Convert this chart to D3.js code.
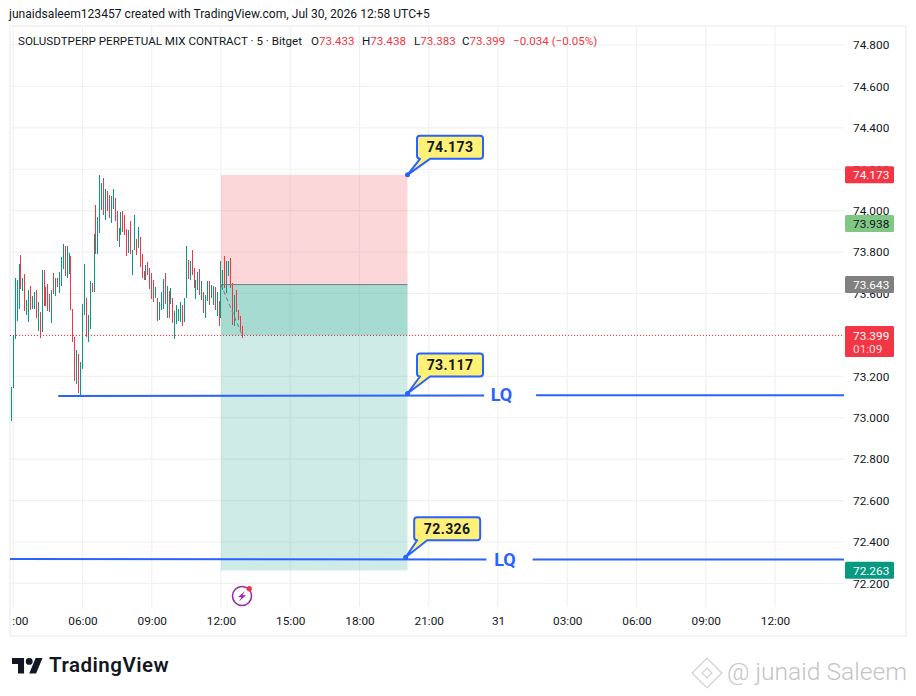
<!DOCTYPE html>
<html>
<head>
<meta charset="utf-8">
<style>
  html, body { margin: 0; padding: 0; background: #fff; }
  svg { display: block; }
  text { font-family: Roboto, "Noto Sans", sans-serif; }
</style>
<script src="https://cdn.jsdelivr.net/npm/d3@7"></script>
</head>
<body>
<svg id="chart" width="916" height="696"></svg>
<script>
// 5 minute bars, first one is Jul 30 02:55
const barHighs = [73.149,73.395,73.675,73.666,73.743,73.786,73.675,73.695,73.569,73.617,
  73.637,73.588,73.608,73.617,73.559,73.511,73.714,73.714,73.632,73.646,
  73.598,73.617,73.699,73.675,73.675,73.704,73.777,73.839,73.830,73.830,
  73.796,73.782,73.526,73.390,73.328,73.308,73.270,73.550,73.743,73.579,
  73.497,73.661,73.651,73.888,74.028,73.970,74.172,74.134,74.158,74.105,
  74.095,74.076,74.071,74.105,74.061,73.998,73.917,73.994,73.998,73.979,
  73.912,73.907,73.951,73.811,73.979,73.864,73.922,73.873,73.791,73.709,
  73.738,73.753,73.724,73.699,73.666,73.632,73.579,73.559,73.608,73.671,
  73.699,73.637,73.613,73.627,73.579,73.516,73.545,73.526,73.559,73.545,
  73.579,73.830,73.762,73.757,73.811,73.724,73.666,73.704,73.719,73.661,
  73.608,73.593,73.661,73.661,73.641,73.637,73.632,73.608,73.564,73.757,
  73.714,73.782,73.757,73.757,73.772,73.651,73.593,73.617,73.521,73.492,73.444]
const barLows = [72.985,73.144,73.381,73.468,73.526,73.622,73.613,73.516,73.497,73.463,
  73.521,73.526,73.526,73.482,73.419,73.385,73.414,73.540,73.540,73.516,
  73.511,73.458,73.598,73.588,73.632,73.603,73.637,73.719,73.685,73.675,
  73.695,73.521,73.366,73.178,73.163,73.120,73.110,73.236,73.497,73.390,
  73.366,73.429,73.608,73.608,73.791,73.791,73.893,74.003,73.979,73.955,
  73.998,73.965,73.941,74.008,73.951,73.854,73.825,73.883,73.897,73.883,
  73.782,73.796,73.791,73.690,73.811,73.786,73.820,73.728,73.675,73.666,
  73.666,73.690,73.622,73.574,73.559,73.579,73.468,73.472,73.521,73.526,
  73.550,73.482,73.482,73.550,73.458,73.381,73.453,73.468,73.463,73.444,
  73.463,73.579,73.671,73.666,73.690,73.627,73.574,73.617,73.593,73.569,
  73.506,73.482,73.564,73.545,73.579,73.545,73.521,73.492,73.444,73.482,
  73.617,73.627,73.603,73.685,73.627,73.448,73.444,73.511,73.472,73.419,73.385]
const barDirs = ('GGGGGRGRGG' + 'RGGRGRGRRR' + 'RGRGRGGGRG' + 'GRRRGRGGGR' + 'GGRGRGGGRG' + 'RRGGRRGGRR'
  + 'RGRGGRGRRR' + 'GRRRRGRGGG' + 'RGRGRGGGGR' + 'GGRGRRGGRG' + 'RGGRGGRGRG' + 'GRGGRRGRRRR').split('')

const priceTicks = [74.8,74.6,74.4,74.2,74.0,73.8,73.6,73.4,73.2,73.0,72.8,72.6,72.4,72.2]
const timeTickHours = [3,6,9,12,15,18,21,24,27,30,33,36]
const timeTickLabels = ['03:00','06:00','09:00','12:00','15:00','18:00','21:00','31','03:00','06:00','09:00','12:00']

const lastPrice = 73.399
const entryPrice = 73.643
const stopPrice = 74.173
const targetPrice = 72.263

const priceLabels = [
  { value: 74.173, text: '74.173', fill: '#f23645', color: '#fff' },
  { value: 73.938, text: '73.938', fill: '#81c784', color: '#131722' },
  { value: 73.643, text: '73.643', fill: '#808080', color: '#fff' },
  { value: 72.263, text: '72.263', fill: '#089981', color: '#fff' }
]
const callouts = [
  { hour: 20.08, price: 74.173, text: '74.173', dx: 9.5, dy: -39 },
  { hour: 20.08, price: 73.117, text: '73.117', dx: 9.5, dy: -40 },
  { hour: 20.0, price: 72.326, text: '72.326', dx: 8.5, dy: -40 }
]
const lqLines = [
  { from: 4.95, to: 39, p1: 73.105, p2: 73.11, gapFrom: 23.4, gapTo: 25.65, textHour: 24.15 },
  { from: 2.85, to: 39, p1: 72.318, p2: 72.313, gapFrom: 23.5, gapTo: 25.5, textHour: 24.3 }
]
const ohlcNames = ['O', 'H', 'L', 'C']
const ohlcValues = ['73.433', '73.438', '73.383', '73.399']
const ohlcX = [311, 362, 414, 462]

const blue = '#2962ff'
const gridColor = '#f1f1f3'
const up = '#089981'
const down = '#f23645'

const plotLeft = 10
const plotRight = 844
const plotTop = 26
const plotBottom = 607

const x = d3.scaleLinear().domain([3, 36]).range([13.25, 775])
const y = d3.scaleLinear().domain([74.8, 72.2]).range([45, 583.4])

const svg = d3.select('#chart')
svg.append('defs').append('clipPath').attr('id', 'plot')
  .append('rect').attr('x', plotLeft).attr('y', plotTop).attr('width', plotRight - plotLeft).attr('height', plotBottom - plotTop)
svg.select('defs').append('clipPath').attr('id', 'timeClip')
  .append('rect').attr('x', 12).attr('y', 0).attr('width', plotRight - 12).attr('height', 30)

// frame
svg.append('rect').attr('x', plotLeft).attr('y', plotTop)
  .attr('width', 896).attr('height', 610)
  .attr('fill', 'none').attr('stroke', '#f3f3f3').attr('stroke-width', 2)

// grid
const grid = svg.append('g')
grid.selectAll('.h').data(priceTicks).enter().append('line')
  .attr('x1', plotLeft).attr('x2', plotRight)
  .attr('y1', d => y(d)).attr('y2', d => y(d))
  .attr('stroke', gridColor).attr('stroke-width', 1.2)
grid.selectAll('.v').data(timeTickHours).enter().append('line')
  .attr('x1', d => x(d)).attr('x2', d => x(d))
  .attr('y1', plotTop).attr('y2', plotBottom)
  .attr('stroke', gridColor).attr('stroke-width', 1.2)

const plot = svg.append('g').attr('clip-path', 'url(#plot)')

// long position box
const boxFrom = 12
const boxTo = 20.08
plot.append('rect')
  .attr('x', x(boxFrom)).attr('width', x(boxTo) - x(boxFrom))
  .attr('y', y(stopPrice)).attr('height', y(entryPrice) - y(stopPrice))
  .attr('fill', down).attr('fill-opacity', 0.2)
plot.append('rect')
  .attr('x', x(boxFrom)).attr('width', x(boxTo) - x(boxFrom))
  .attr('y', y(entryPrice)).attr('height', y(targetPrice) - y(entryPrice))
  .attr('fill', up).attr('fill-opacity', 0.2)
plot.append('rect')
  .attr('x', x(boxFrom)).attr('width', x(boxTo) - x(boxFrom))
  .attr('y', y(entryPrice)).attr('height', y(lastPrice) - y(entryPrice))
  .attr('fill', up).attr('fill-opacity', 0.2)

// bars
const barHour = i => 2 + 55 / 60 + i * 5 / 60
plot.selectAll('.bar').data(barHighs).enter().append('rect')
  .attr('x', (d, i) => Math.floor(x(barHour(i))))
  .attr('width', 1)
  .attr('y', d => y(d))
  .attr('height', (d, i) => y(barLows[i]) - y(d))
  .attr('shape-rendering', 'crispEdges')
  .attr('fill', (d, i) => barDirs[i] === 'G' ? up : down)

plot.append('line')
  .attr('x1', x(boxFrom) - 1).attr('x2', x(boxTo))
  .attr('y1', y(entryPrice)).attr('y2', y(entryPrice))
  .attr('stroke', '#787b86').attr('stroke-width', 1)
plot.append('line')
  .attr('x1', x(boxFrom)).attr('x2', x(barHour(120)))
  .attr('y1', y(entryPrice)).attr('y2', y(lastPrice))
  .attr('stroke', '#8a8a8a').attr('stroke-width', 1.2).attr('stroke-dasharray', '4 3')

// last price line
plot.append('line')
  .attr('x1', plotLeft).attr('x2', plotRight)
  .attr('y1', y(lastPrice)).attr('y2', y(lastPrice))
  .attr('shape-rendering', 'crispEdges')
  .attr('stroke', down).attr('stroke-width', 1).attr('stroke-dasharray', '1 2')

// LQ lines
lqLines.forEach(d => {
  const py = h => y(d.p1 + (d.p2 - d.p1) * (h - d.from) / (d.to - d.from))
  plot.append('line').attr('x1', x(d.from)).attr('x2', x(d.gapFrom))
    .attr('y1', py(d.from)).attr('y2', py(d.gapFrom))
    .attr('stroke', blue).attr('stroke-width', 2)
  plot.append('line').attr('x1', x(d.gapTo)).attr('x2', plotRight)
    .attr('y1', py(d.gapTo)).attr('y2', py(d.gapTo))
    .attr('stroke', blue).attr('stroke-width', 2)
  plot.append('text').attr('x', x(d.textHour)).attr('y', py(d.gapFrom) + 6)
    .attr('text-anchor', 'middle').attr('font-size', 18).attr('font-weight', 700)
    .attr('fill', blue).text('LQ')
})

// callouts
callouts.forEach(d => {
  const ax = x(d.hour)
  const ay = y(d.price)
  const bx = ax + d.dx
  const by = ay + d.dy
  const w = 66
  const h = 23
  const r = 3
  const path = `M${ax},${ay}L${bx + 3},${by + h}H${bx + r}Q${bx},${by + h} ${bx},${by + h - r}V${by + r}Q${bx},${by} ${bx + r},${by}`
    + `H${bx + w - r}Q${bx + w},${by} ${bx + w},${by + r}V${by + h - r}Q${bx + w},${by + h} ${bx + w - r},${by + h}H${bx + 13}Z`
  svg.append('path').attr('d', path).attr('fill', '#fff176').attr('stroke', blue).attr('stroke-width', 2).attr('stroke-linejoin', 'round')
  svg.append('circle').attr('cx', ax).attr('cy', ay).attr('r', 2.5).attr('fill', blue)
  svg.append('text').attr('x', bx + w / 2).attr('y', by + 16.5)
    .attr('text-anchor', 'middle').attr('font-size', 14).attr('font-weight', 700)
    .attr('letter-spacing', 0.4).attr('fill', '#131722').text(d.text)
})

// price axis
const priceAxis = d3.axisRight(y).tickValues(priceTicks).tickFormat(d3.format('.3f')).tickSize(0).tickPadding(0)
svg.append('g').attr('transform', 'translate(853,0)').call(priceAxis)
  .call(g => g.select('.domain').remove())
  .call(g => g.selectAll('text').attr('font-size', 11.8).attr('fill', '#131722').style('font-family', 'Roboto, sans-serif'))

priceLabels.forEach(d => {
  svg.append('rect').attr('x', 845).attr('y', y(d.value) - 8.5).attr('width', 49).attr('height', 17)
    .attr('rx', 1.5).attr('fill', d.fill)
  svg.append('text').attr('x', 853).attr('y', y(d.value) + 4.5).attr('font-size', 11.8)
    .attr('fill', d.color).text(d.text)
})
svg.append('rect').attr('x', 845).attr('y', y(lastPrice) - 9).attr('width', 49).attr('height', 31)
  .attr('rx', 1.5).attr('fill', down)
svg.append('text').attr('x', 853).attr('y', y(lastPrice) + 4.5).attr('font-size', 11.8).attr('fill', '#fff').text('73.399')
svg.append('text').attr('x', 853).attr('y', y(lastPrice) + 18).attr('font-size', 11.8).attr('fill', '#fff').attr('fill-opacity', 0.8).text('01:09')

// time axis
const timeAxis = d3.axisBottom(x).tickValues(timeTickHours)
  .tickFormat((d, i) => timeTickLabels[i]).tickSize(0).tickPadding(0)
svg.append('g').attr('transform', 'translate(0,617)').attr('clip-path', 'url(#timeClip)').call(timeAxis)
  .call(g => g.select('.domain').remove())
  .call(g => g.selectAll('text').attr('font-size', 11.8).attr('fill', '#131722').style('font-family', 'Roboto, sans-serif'))

// event badge
const badge = svg.append('g').attr('transform', 'translate(242,596)')
badge.append('circle').attr('r', 9.5).attr('fill', '#fff').attr('stroke', '#9c27b0').attr('stroke-width', 1.6)
badge.append('path').attr('d', 'M3,-5L-4,1.2H-0.5L-3,5.5L4,-0.8H0.5Z').attr('fill', '#9c27b0')
badge.append('circle').attr('cx', 7.3).attr('cy', -7.3).attr('r', 2.6).attr('fill', down)

// header
svg.append('text').attr('x', 9).attr('y', 18).attr('font-size', 12.1).attr('fill', '#131722')
  .text('junaidsaleem123457 created with TradingView.com, Jul 30, 2026 12:58 UTC+5')

const legend = svg.append('text').attr('y', 45).attr('font-size', 11.6).attr('fill', '#131722')
legend.append('tspan').attr('x', 18).text('SOLUSDTPERP PERPETUAL MIX CONTRACT · 5 · Bitget')
ohlcNames.forEach((d, i) => {
  legend.append('tspan').attr('x', ohlcX[i]).text(d)
  legend.append('tspan').attr('fill', down).text(ohlcValues[i])
})
legend.append('tspan').attr('x', 513).attr('fill', down).text('−0.034 (−0.05%)')

// footer
const logo = svg.append('g').attr('transform', 'translate(12,654.5) scale(0.86)').attr('fill', '#131722')
logo.append('path').attr('d', 'M14 22H7V11H0V4h14v18zM28 22h-8l7.5-18h8L28 22z')
logo.append('circle').attr('cx', 20).attr('cy', 8).attr('r', 4)
svg.append('text').attr('x', 49).attr('y', 672).attr('font-size', 20.5).attr('font-weight', 600)
  .attr('letter-spacing', 0.5).attr('fill', '#131722').text('TradingView')

const mark = svg.append('g').attr('transform', 'translate(707,673)').attr('fill', 'none').attr('stroke', '#d2d2d2').attr('stroke-width', 1.3)
mark.append('rect').attr('x', -10.5).attr('y', -10.5).attr('width', 21).attr('height', 21).attr('transform', 'rotate(45)')
mark.append('rect').attr('x', -3.5).attr('y', -3.5).attr('width', 7).attr('height', 7).attr('transform', 'rotate(45)')
svg.append('text').attr('x', 727).attr('y', 680).attr('font-size', 24.6).attr('font-weight', 300)
  .attr('fill', '#c4c4c4').text('@ junaid Saleem')
</script>
</body>
</html>
